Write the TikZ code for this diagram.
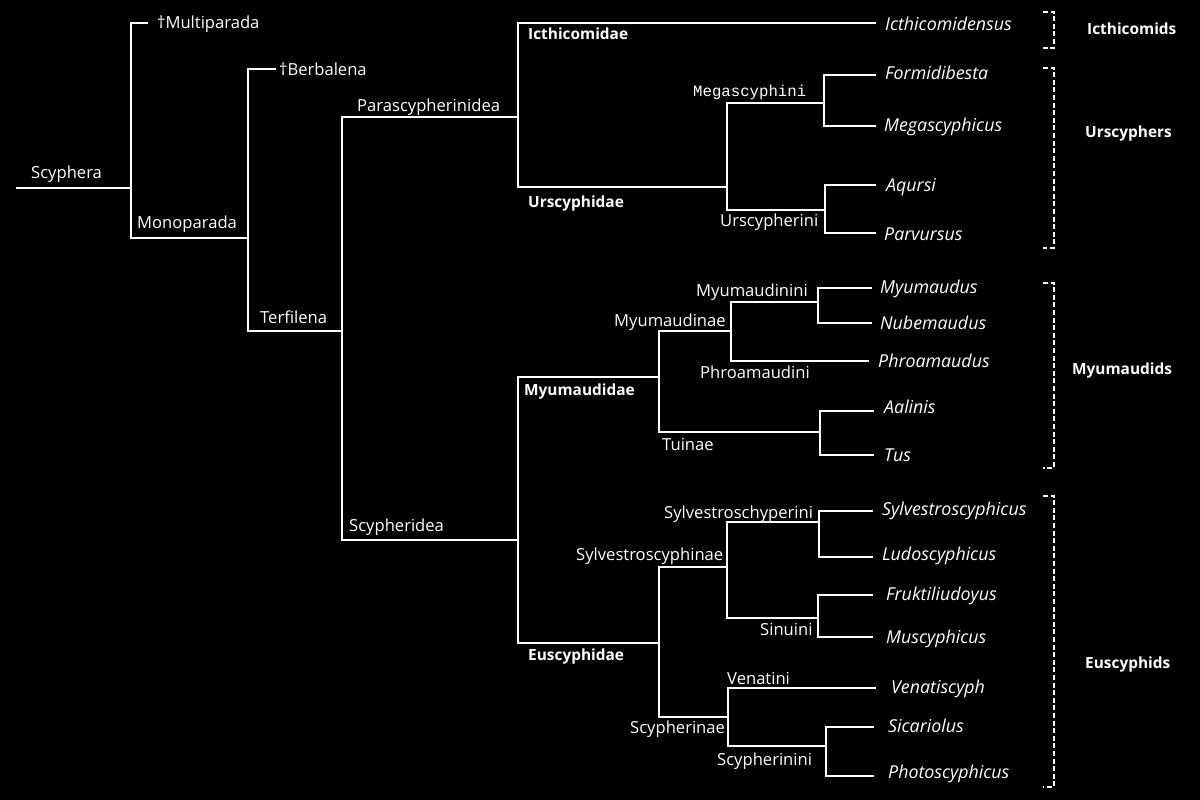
\documentclass[tikz,border=0pt]{standalone}
\usepackage{fontspec}
\setmainfont{Open Sans}
\newfontfamily\monofont{Liberation Mono}
\begin{document}
\begin{tikzpicture}[x=1pt,y=-1pt,
  br/.style={draw=white, line width=2pt},
  bk/.style={draw=white, line width=1.7pt, dash pattern=on 5pt off 2.6pt},
  lbl/.style={text=white, inner sep=0pt, anchor=base west, font=\fontsize{16.6}{20}\selectfont},
  mlbl/.style={text=white, inner sep=0pt, anchor=base west, font=\monofont\fontsize{15.7}{19}\selectfont},
  blbl/.style={text=white, inner sep=0pt, anchor=base west, font=\bfseries\fontsize{15.4}{19}\selectfont},
  leaf/.style={text=white, inner sep=0pt, anchor=base west, font=\itshape\fontsize{17.8}{21}\selectfont},
  grp/.style={text=white, inner sep=0pt, anchor=base west, font=\bfseries\fontsize{15.4}{19}\selectfont}]
\fill[black] (0,0) rectangle (1200,800);
\useasboundingbox (0,0) rectangle (1200,800);

% ---------- junctions and line ends ----------
\coordinate (root) at (16,188);
\coordinate (J0) at (131,188);
\coordinate (eMulti) at (148,23);
\coordinate (J1) at (248,238);
\coordinate (eBerb) at (276,69);
\coordinate (J2) at (342,331);
\coordinate (J3) at (518,117);
\coordinate (J4) at (518,540);
\coordinate (eIcth) at (876,23);
\coordinate (J5) at (727,187);
\coordinate (J6) at (824,103);
\coordinate (J7) at (825,210);
\coordinate (eFormi) at (876,75);
\coordinate (eMegas) at (876,126);
\coordinate (eAqur) at (876,185);
\coordinate (eParv) at (876,233);
\coordinate (J8) at (659,377);
\coordinate (J9) at (659,643);
\coordinate (J10) at (731,331);
\coordinate (J11) at (820,432);
\coordinate (J12) at (818,302);
\coordinate (ePhro) at (869,361);
\coordinate (eMyum) at (872,288);
\coordinate (eNube) at (872,323);
\coordinate (eAali) at (874,411);
\coordinate (eTus) at (874,455);
\coordinate (J13) at (727,567);
\coordinate (J14) at (728,717);
\coordinate (J15) at (819,522);
\coordinate (J16) at (818,618);
\coordinate (eSylv) at (873,511);
\coordinate (eLudo) at (873,557);
\coordinate (eFruk) at (873,595);
\coordinate (eMusc) at (873,637);
\coordinate (eVena) at (876,688);
\coordinate (J17) at (826,746);
\coordinate (eSica) at (874,727);
\coordinate (ePhot) at (874,776);

% ---------- branches ----------
\draw[br] (root) -- (J0);
\draw[br] (J0) |- (eMulti);
\draw[br] (J0) |- (J1);
\draw[br] (J1) |- (eBerb);
\draw[br] (J1) |- (J2);
\draw[br] (J2) |- (J3);
\draw[br] (J2) |- (J4);
\draw[br] (J3) |- (eIcth);
\draw[br] (J3) |- (J5);
\draw[br] (J5) |- (J6);
\draw[br] (J5) |- (J7);
\draw[br] (J6) |- (eFormi);
\draw[br] (J6) |- (eMegas);
\draw[br] (J7) |- (eAqur);
\draw[br] (J7) |- (eParv);
\draw[br] (J4) |- (J8);
\draw[br] (J4) |- (J9);
\draw[br] (J8) |- (J10);
\draw[br] (J8) |- (J11);
\draw[br] (J10) |- (J12);
\draw[br] (J10) |- (ePhro);
\draw[br] (J12) |- (eMyum);
\draw[br] (J12) |- (eNube);
\draw[br] (J11) |- (eAali);
\draw[br] (J11) |- (eTus);
\draw[br] (J9) |- (J13);
\draw[br] (J9) |- (J14);
\draw[br] (J13) |- (J15);
\draw[br] (J13) |- (J16);
\draw[br] (J15) |- (eSylv);
\draw[br] (J15) |- (eLudo);
\draw[br] (J16) |- (eFruk);
\draw[br] (J16) |- (eMusc);
\draw[br] (J14) |- (eVena);
\draw[br] (J14) |- (J17);
\draw[br] (J17) |- (eSica);
\draw[br] (J17) |- (ePhot);

% ---------- clade labels ----------
\node[lbl] (tScyphera) at (31,178) {Scyphera};
\node[lbl] (tMulti) at (157,29) {†Multiparada};
\node[lbl] (tBerb) at (279,75) {†Berbalena};
\node[lbl] (tMono) at (137,228) {Monoparada};
\node[lbl] (tTerf) at (260,323) {Terfilena};
\node[lbl] (tPara) at (357,111) {Parascypherinidea};
\node[lbl] (tScyd) at (349,531) {Scypheridea};
\node[blbl] (tIcthd) at (528,40) {Icthicomidae};
\node[blbl] (tUrsd) at (528,207) {Urscyphidae};
\node[mlbl] (tMega) at (693,96) {Megascyphini};
\node[lbl] (tUrsi) at (720,226) {Urscypherini};
\node[blbl] (tMyud) at (524,395) {Myumaudidae};
\node[lbl] (tMyuae) at (614,326) {Myumaudinae};
\node[lbl] (tMyuini) at (696,296) {Myumaudinini};
\node[lbl] (tPhroi) at (700,378) {Phroamaudini};
\node[lbl] (tTuin) at (662,450) {Tuinae};
\node[blbl] (tEusd) at (528,660) {Euscyphidae};
\node[lbl] (tSylae) at (576,560) {Sylvestroscyphinae};
\node[lbl] (tSylini) at (664,518) {Sylvestroschyperini};
\node[lbl] (tSinu) at (760,635) {Sinuini};
\node[lbl] (tVenat) at (727,684) {Venatini};
\node[lbl] (tScyae) at (630,733) {Scypherinae};
\node[lbl] (tScyini) at (717,765) {Scypherinini};

% ---------- leaves ----------
\node[leaf] (lIcth) at (885,31) {Icthicomidensus};
\node[leaf] (lFormi) at (885,80) {Formidibesta};
\node[leaf] (lMegas) at (884,131) {Megascyphicus};
\node[leaf] (lAqur) at (886,191) {Aqursi};
\node[leaf] (lParv) at (884,240) {Parvursus};
\node[leaf] (lMyum) at (880,293) {Myumaudus};
\node[leaf] (lNube) at (880,329) {Nubemaudus};
\node[leaf] (lPhro) at (878,367) {Phroamaudus};
\node[leaf] (lAali) at (884,413) {Aalinis};
\node[leaf] (lTus) at (884,461) {Tus};
\node[leaf] (lSylv) at (882,515) {Sylvestroscyphicus};
\node[leaf] (lLudo) at (882,560) {Ludoscyphicus};
\node[leaf] (lFruk) at (886,600) {Fruktiliudoyus};
\node[leaf] (lMusc) at (886,643) {Muscyphicus};
\node[leaf] (lVena) at (891,693) {Venatiscyph};
\node[leaf] (lSica) at (888,732) {Sicariolus};
\node[leaf] (lPhot) at (888,778) {Photoscyphicus};

% ---------- group brackets ----------
\draw[bk] (1043,12) -- (1054,12) -- (1054,48) -- (1043,48);
\draw[bk] (1043,68) -- (1054,68) -- (1054,248) -- (1043,248);
\draw[bk] (1043,283) -- (1054,283) -- (1054,468) -- (1043,468);
\draw[bk] (1043,496) -- (1054,496) -- (1054,787) -- (1043,787);
\node[grp] (gIcth) at (1087,35) {Icthicomids};
\node[grp] (gUrs) at (1085,137) {Urscyphers};
\node[grp] (gMyu) at (1072,374) {Myumaudids};
\node[grp] (gEus) at (1085,668) {Euscyphids};
\end{tikzpicture}
\end{document}
